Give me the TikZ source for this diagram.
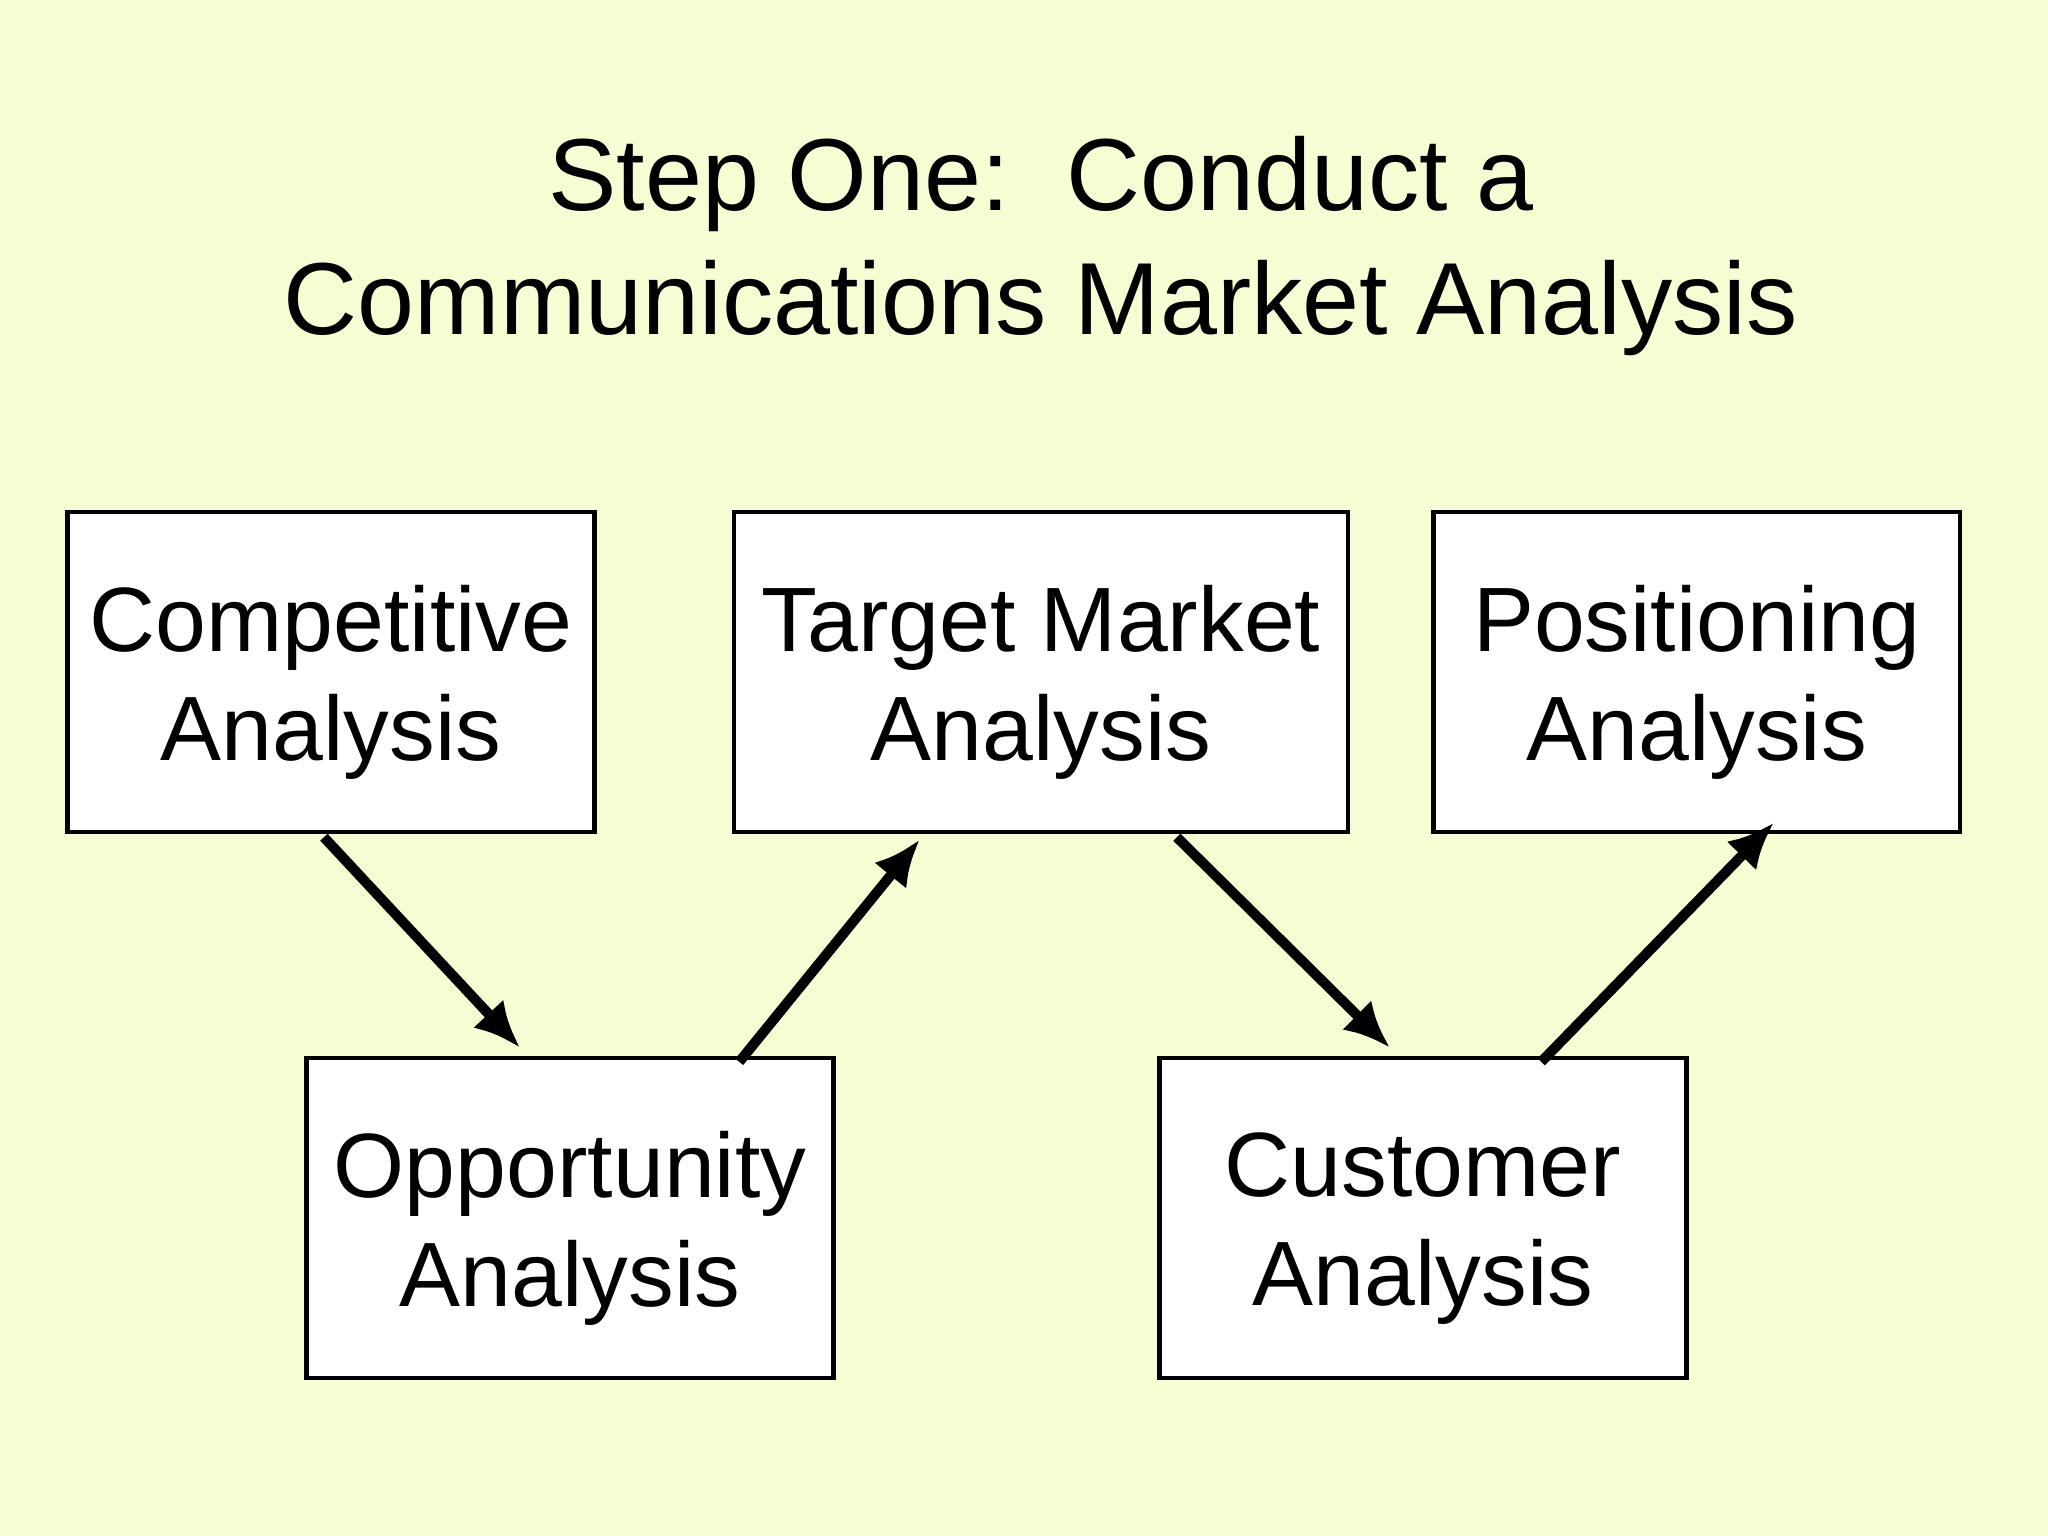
\documentclass[tikz,border=0pt]{standalone}
\usepackage{fontspec}
\setmainfont{Liberation Sans}
\usetikzlibrary{arrows.meta}
\definecolor{bg}{HTML}{F7FDD3}
\begin{document}
\begin{tikzpicture}[x=0.01cm,y=-0.01cm,
  box/.style={draw=black,line width=1pt,fill=white,minimum width=4.03cm,minimum height=2.45cm,inner sep=0pt},
  lbl/.style={align=center,font=\fontsize{19.9}{23.6}\selectfont,inner sep=0pt},
  arr/.style={line width=2.2pt,-{Latex[length=10pt,width=9pt]}}]
\fill[bg] (0,0) rectangle (1568,1176);
\useasboundingbox (0,0) rectangle (1568,1176);
\node[align=center,font=\fontsize{22.3}{27}\selectfont] (title) at (797,188) {Step One:\ \ Conduct a\\Communications Market Analysis};
\node[box] (comp) at (253.5,514.5) {};
\node[box,minimum width=4.7cm] (targ) at (797,514.5) {};
\node[box] (pos) at (1299,514.5) {};
\node[box] (opp) at (436.5,932.5) {};
\node[box] (cust) at (1089.5,932.5) {};
\node[lbl] at ([yshift=-0.08cm]comp.center) {Competitive\\Analysis};
\node[lbl] at ([yshift=-0.08cm]targ.center) {Target Market\\Analysis};
\node[lbl] at ([yshift=-0.08cm]pos.center) {Positioning\\Analysis};
\node[lbl] at ([yshift=-0.08cm]opp.center) {Opportunity\\Analysis};
\node[lbl] at ([yshift=-0.08cm]cust.center) {Customer\\Analysis};
\coordinate (a1s) at (248,641); \coordinate (a1e) at (398,802);
\coordinate (a2s) at (566,813); \coordinate (a2e) at (704,643);
\coordinate (a3s) at (901,641); \coordinate (a3e) at (1064,802);
\coordinate (a4s) at (1180,813); \coordinate (a4e) at (1358,630);
\draw[arr] (a1s) -- (a1e);
\draw[arr] (a2s) -- (a2e);
\draw[arr] (a3s) -- (a3e);
\draw[arr] (a4s) -- (a4e);
\end{tikzpicture}
\end{document}
